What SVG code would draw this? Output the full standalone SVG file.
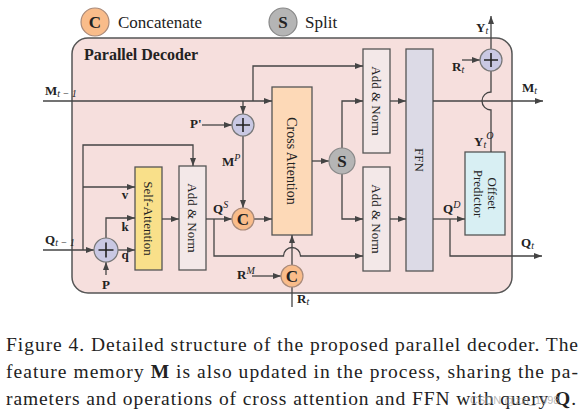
<svg xmlns="http://www.w3.org/2000/svg" width="587" height="417" viewBox="0 0 587 417">
<style>
text{font-family:"Liberation Serif","Times New Roman",serif;fill:#222}
.lbl{font-weight:bold;font-size:13px}
.sub{font-weight:normal;font-style:italic;font-size:10px}
.box{stroke:#555;stroke-width:1.3}
.ln{fill:none;stroke:#444;stroke-width:1.3}
.arr{marker-end:url(#ah)}
.bt{font-size:13px}
.cl{font-weight:bold;font-size:17px}
.cap{font-size:19.5px}
</style>
<defs>
<marker id="ah" markerWidth="8" markerHeight="6" refX="8" refY="3" orient="auto" markerUnits="userSpaceOnUse">
<path d="M0,0 L8,3 L0,6 z" fill="#444"/>
</marker>
</defs>
<rect width="587" height="417" fill="#fff"/>

<g id="legend">
<circle cx="95" cy="22" r="14" fill="#f9bc8a" stroke="#a98a7a" stroke-width="1.2"/>
<text x="95" y="28" class="cl" text-anchor="middle">C</text>
<text x="118" y="28" font-size="17">Concatenate</text>
<circle cx="283" cy="22" r="14" fill="#b5b5b5" stroke="#888" stroke-width="1.2"/>
<text x="283" y="28" class="cl" text-anchor="middle">S</text>
<text x="305" y="28" font-size="17">Split</text>
</g>

<g id="decoder">
<rect x="72" y="38" width="440" height="255" rx="16" fill="#f6dfdd" stroke="#555" stroke-width="1.5"/>
<text x="84" y="60" font-weight="bold" font-size="16">Parallel Decoder</text>
</g>

<g id="self-attention">
<rect class="box" x="135" y="167" width="27" height="103" fill="#f9e08a"/>
<text class="bt" transform="translate(148.5,218.5) rotate(90)" x="0" y="4.5" text-anchor="middle">Self-Attention</text>
</g>
<g id="addnorm1">
<rect class="box" x="179" y="166" width="27" height="104" fill="#f3e8e8"/>
<text class="bt" transform="translate(192.5,218) rotate(90)" x="0" y="4.5" text-anchor="middle">Add &amp; Norm</text>
</g>
<g id="cross-attention">
<rect class="box" x="272" y="87" width="40" height="148" fill="#fdd9b7"/>
<text transform="translate(292,161) rotate(90)" x="0" y="5" text-anchor="middle" font-size="14">Cross Attention</text>
</g>
<g id="addnorm2">
<rect class="box" x="363" y="49" width="27" height="104" fill="#f3e8e8"/>
<text class="bt" transform="translate(376.5,101) rotate(90)" x="0" y="4.5" text-anchor="middle">Add &amp; Norm</text>
</g>
<g id="addnorm3">
<rect class="box" x="363" y="167" width="27" height="104" fill="#f3e8e8"/>
<text class="bt" transform="translate(376.5,219) rotate(90)" x="0" y="4.5" text-anchor="middle">Add &amp; Norm</text>
</g>
<g id="ffn">
<rect class="box" x="406" y="49" width="27" height="222" fill="#dcdae6"/>
<text class="bt" transform="translate(419.5,160) rotate(90)" x="0" y="4.5" text-anchor="middle">FFN</text>
</g>
<g id="offset-predictor">
<rect class="box" x="465" y="152" width="40" height="83" fill="#d8eff3"/>
<text class="bt" transform="translate(485,193.5) rotate(90)" text-anchor="middle"><tspan x="0" y="-3">Offset</tspan><tspan x="0" y="11">Predictor</tspan></text>
</g>

<g id="connectors">
<path class="ln arr" d="M43,101 H272"/>
<path class="ln arr" d="M243,101 V114"/>
<path class="ln arr" d="M253,101 V66 H363"/>
<path class="ln arr" d="M202,125 H232"/>
<path class="ln arr" d="M243,136 V208"/>
<path class="ln arr" d="M43,250 H94"/>
<path class="ln arr" d="M83,250 V145 H193 V166"/>
<path class="ln arr" d="M83,187 H135"/>
<path class="ln arr" d="M118,250 H135"/>
<path class="ln arr" d="M106,238 V218 H135"/>
<path class="ln arr" d="M106,275 V262"/>
<path class="ln arr" d="M162,219 H179"/>
<path class="ln arr" d="M206,219 H232"/>
<path class="ln arr" d="M254,219 H272"/>
<path class="ln arr" d="M214,219 V256 H283.5 A8.5,8.5 0 0 1 300.5,256 H363"/>
<path class="ln arr" d="M252,276 H281"/>
<path class="ln arr" d="M292,265 V235"/>
<path class="ln" d="M292,287 V307"/>
<path class="ln arr" d="M312,161 H329"/>
<path class="ln arr" d="M342,148 V101 H363"/>
<path class="ln arr" d="M342,174 V219 H363"/>
<path class="ln arr" d="M390,101 H406"/>
<path class="ln arr" d="M390,219 H406"/>
<path class="ln arr" d="M433,101 H543"/>
<path class="ln arr" d="M433,219 H465"/>
<path class="ln arr" d="M450,219 V256 H542"/>
<path class="ln" d="M491,152 V110 A9,9 0 0 1 491,92 V71"/>
<path class="ln arr" d="M491,49 V16"/>
<path class="ln arr" d="M462,60 H480"/>
</g>

<g id="plus-m">
<circle cx="243" cy="125" r="11" fill="#c9c8e3" stroke="#777" stroke-width="1.2"/>
<path d="M236,125 H250 M243,118 V132" stroke="#222" stroke-width="1.6"/>
</g>
<g id="plus-q">
<circle cx="106" cy="250" r="12" fill="#c9c8e3" stroke="#777" stroke-width="1.2"/>
<path d="M98.5,250 H113.5 M106,242.5 V257.5" stroke="#222" stroke-width="1.6"/>
</g>
<g id="plus-y">
<circle cx="491" cy="60" r="11" fill="#c9c8e3" stroke="#777" stroke-width="1.2"/>
<path d="M484,60 H498 M491,53 V67" stroke="#222" stroke-width="1.6"/>
</g>
<g id="concat-q">
<circle cx="243" cy="219" r="11" fill="#f9bc8a" stroke="#a98a7a" stroke-width="1.2"/>
<text x="243" y="225" class="cl" text-anchor="middle">C</text>
</g>
<g id="concat-r">
<circle cx="292" cy="276" r="11" fill="#f9bc8a" stroke="#a98a7a" stroke-width="1.2"/>
<text x="292" y="282" class="cl" text-anchor="middle">C</text>
</g>
<g id="split">
<circle cx="342" cy="161" r="13" fill="#b5b5b5" stroke="#888" stroke-width="1.2"/>
<text x="342" y="167" class="cl" text-anchor="middle">S</text>
</g>

<g id="labels">
<text class="lbl" x="45" y="95">M<tspan class="sub" dy="2">t − 1</tspan></text>
<text class="lbl" x="45" y="244">Q<tspan class="sub" dy="2">t − 1</tspan></text>
<text class="lbl" x="125" y="199" text-anchor="middle">v</text>
<text class="lbl" x="125" y="231" text-anchor="middle">k</text>
<text class="lbl" x="125" y="259" text-anchor="middle">q</text>
<text class="lbl" x="106" y="289" text-anchor="middle">P</text>
<text class="lbl" x="190" y="128">P'</text>
<text class="lbl" x="222" y="166">M<tspan class="sub" dy="-5">P</tspan></text>
<text class="lbl" x="213" y="213">Q<tspan class="sub" dy="-5">S</tspan></text>
<text class="lbl" x="237" y="279">R<tspan class="sub" dy="-5">M</tspan></text>
<text class="lbl" x="297" y="303">R<tspan class="sub" dy="2">t</tspan></text>
<text class="lbl" x="443" y="213">Q<tspan class="sub" dy="-5">D</tspan></text>
<text class="lbl" x="521" y="247">Q<tspan class="sub" dy="2">t</tspan></text>
<text class="lbl" x="474" y="146">Y<tspan class="sub" dy="2">t</tspan><tspan class="sub" dy="-9">O</tspan></text>
<text class="lbl" x="522" y="92">M<tspan class="sub" dy="2">t</tspan></text>
<text class="lbl" x="452" y="71">R<tspan class="sub" dy="2">t</tspan></text>
<text class="lbl" x="476" y="32">Y<tspan class="sub" dy="2">t</tspan></text>
</g>

<g id="caption">
<text class="cap" x="6" y="351" textLength="572" lengthAdjust="spacing">Figure 4. Detailed structure of the proposed parallel decoder. The</text>
<text class="cap" x="6" y="378" textLength="572" lengthAdjust="spacing">feature memory <tspan font-weight="bold">M</tspan> is also updated in the process, sharing the pa-</text>
<text class="cap" x="6" y="405" textLength="570" lengthAdjust="spacing">rameters and operations of cross attention and FFN with query <tspan font-weight="bold">Q</tspan>.</text>
<text x="470" y="404" font-size="11" style="font-family:'Liberation Sans',Arial,sans-serif;fill:#999;fill-opacity:0.7">CSDN @zzl_1998</text>
</g>
</svg>
